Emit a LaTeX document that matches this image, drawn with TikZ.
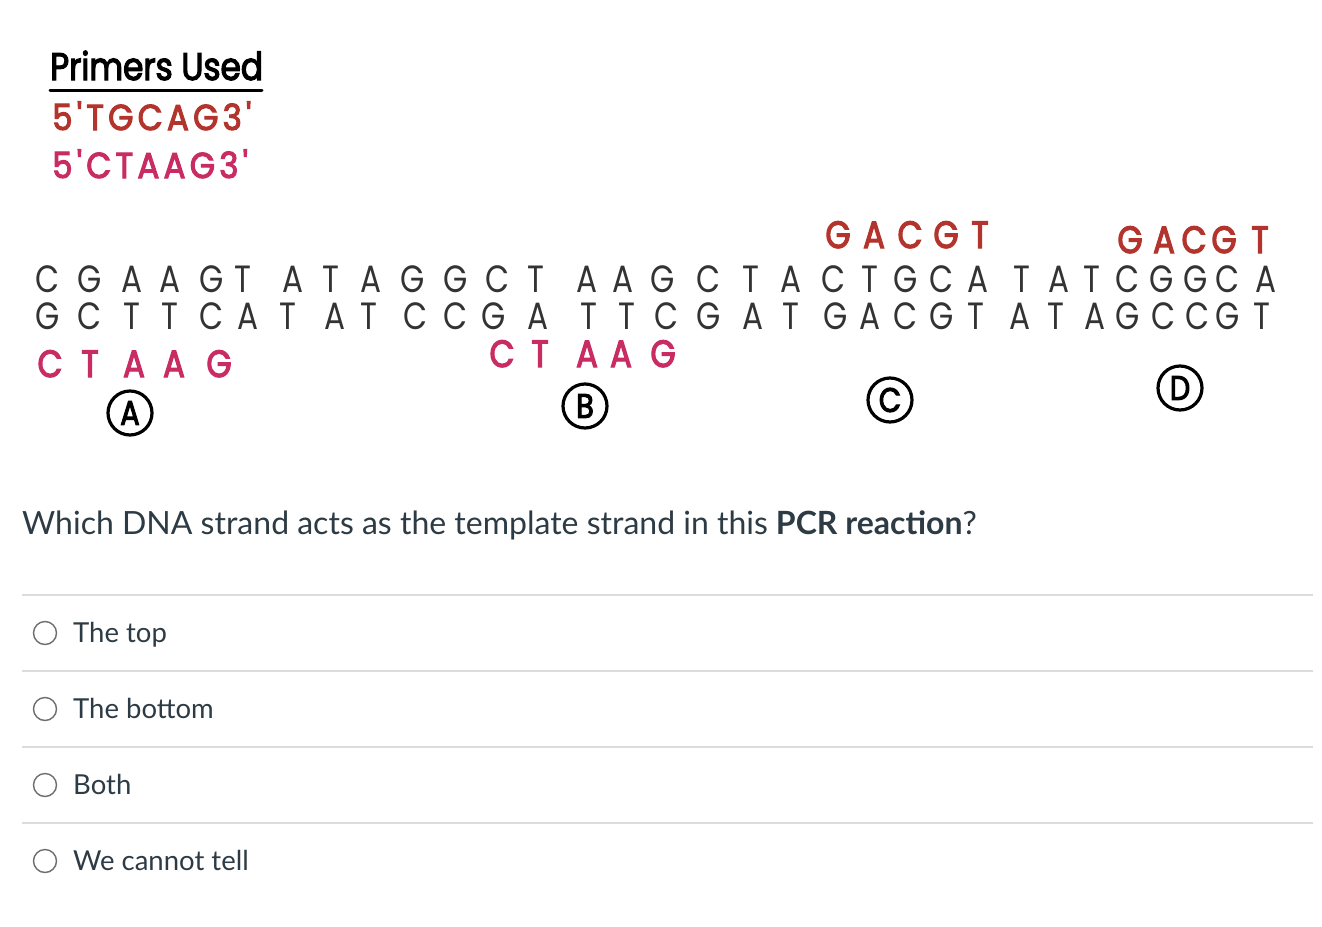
\documentclass[tikz,border=0pt]{standalone}
\usepackage{fontspec}
\setmainfont{Lato}
\newfontfamily\hand{Poppins}[FakeStretch=0.82]
\newfontfamily\handthick{Poppins}[FakeStretch=0.85, FakeBold=3]
\newfontfamily\handkey{Poppins}[FakeStretch=0.9, FakeBold=3, LetterSpace=12]
\definecolor{canvasink}{HTML}{2D3B45}
\definecolor{primerred}{HTML}{B3342C}
\definecolor{primerpink}{HTML}{C92B63}
\definecolor{rulegray}{HTML}{DCDCDC}
\definecolor{radiogray}{HTML}{6E6E6E}
\tikzset{
  strand/.style={font=\hand\fontsize{38}{38}\selectfont, inner sep=0pt, anchor=base, text=black!80},
  fwdprimer/.style={strand, text=primerred, font=\handthick\fontsize{38}{38}\selectfont},
  revprimer/.style={strand, text=primerpink, font=\handthick\fontsize{38}{38}\selectfont},
  siteletter/.style={circle, draw, line width=3.2pt, minimum size=44pt, inner sep=0pt,
    font=\handthick\fontsize{34}{34}\selectfont},
  choice/.style={anchor=base west, inner sep=0pt, text=canvasink, font=\fontsize{27.5}{27.5}\selectfont},
  radio/.style={circle, draw=radiogray, line width=1.4pt, minimum size=23pt, inner sep=0pt},
}
\begin{document}
\begin{tikzpicture}[x=1pt,y=-1pt]
  \useasboundingbox[fill=white] (0,0) rectangle (1322,926);
  % primer key, top left
  \node[strand, anchor=base west, text=black, font=\handthick\fontsize{38.5}{38.5}\selectfont] (key) at (50,80) {Primers Used};
  \draw[line width=3pt, line cap=round] (key.base west) ++(0,10) coordinate (ul) -- ++(212,0);
  \node[fwdprimer, anchor=base west, font=\handkey\fontsize{36}{36}\selectfont] (keyfwd) at (52,130) {5'TGCAG3'};
  \node[revprimer, anchor=base west, font=\handkey\fontsize{36}{36}\selectfont] (keyrev) at (52,178) {5'CTAAG3'};
  % the two strands
  \foreach \b/\x [count=\i] in {C/48,G/90,A/132,A/170,G/212,T/243,A/293,T/331,A/371,G/413,G/456,C/498,
      T/536,A/587,A/623,G/663,C/709,T/751,A/791,C/834,T/870,G/906,C/942,A/978,T/1022,A/1059,
      T/1092,C/1128,G/1162,G/1196,C/1228,A/1266}{% top strand
    \node[strand] (t\i) at (\x,292) {\b};}
  \foreach \b/\x [count=\i] in {G/48,C/90,T/132,T/170,C/212,A/248,T/288,A/335,T/369,C/416,C/456,G/494,
      A/538,T/589,T/627,C/667,G/709,A/753,T/791,G/836,A/870,C/906,G/942,T/976,A/1020,T/1056,
      A/1095,G/1128,C/1164,C/1198,G/1228,T/1262}{% bottom strand
    \node[strand] (b\i) at (\x,329) {\b};}
  % primers drawn on the strands
  \foreach \b/\x [count=\i] in {C/50,T/90,A/134,A/174,G/219}{%
    \node[revprimer] (pa\i) at (\x,377) {\b};}
  \foreach \b/\x [count=\i] in {C/502,T/540,A/587,A/621,G/663}{%
    \node[revprimer] (pb\i) at (\x,367) {\b};}
  \foreach \b/\x [count=\i] in {G/838,A/874,C/910,G/946,T/980}{%
    \node[fwdprimer] (pc\i) at (\x,248) {\b};}
  \foreach \b/\x [count=\i] in {G/1130,A/1164,C/1194,G/1224,T/1260}{%
    \node[fwdprimer] (pd\i) at (\x,253) {\b};}
  % site labels
  \node[siteletter] (siteA) at (130,413) {A};
  \node[siteletter] (siteB) at (585,406) {B};
  \node[siteletter] (siteC) at (890,400) {C};
  \node[siteletter] (siteD) at (1180,388) {D};
  % question and choices
  \node[choice, font=\fontsize{32}{32}\selectfont] (question) at (22,534)
    {Which DNA strand acts as the template strand in this \textbf{PCR reaction}?};
  \foreach \y/\txt [count=\i] in {633/The top,709/The bottom,785/Both,861/We cannot tell}{%
    \draw[rulegray, line width=1.5pt] (22,\y-38) -- (1313,\y-38);
    \node[radio] (radio\i) at (45,\y) {};
    \node[choice] (answer\i) at (73,\y+9) {\txt};}
  \draw[rulegray, line width=1.5pt] (22,823) -- (1313,823);
\end{tikzpicture}
\end{document}
